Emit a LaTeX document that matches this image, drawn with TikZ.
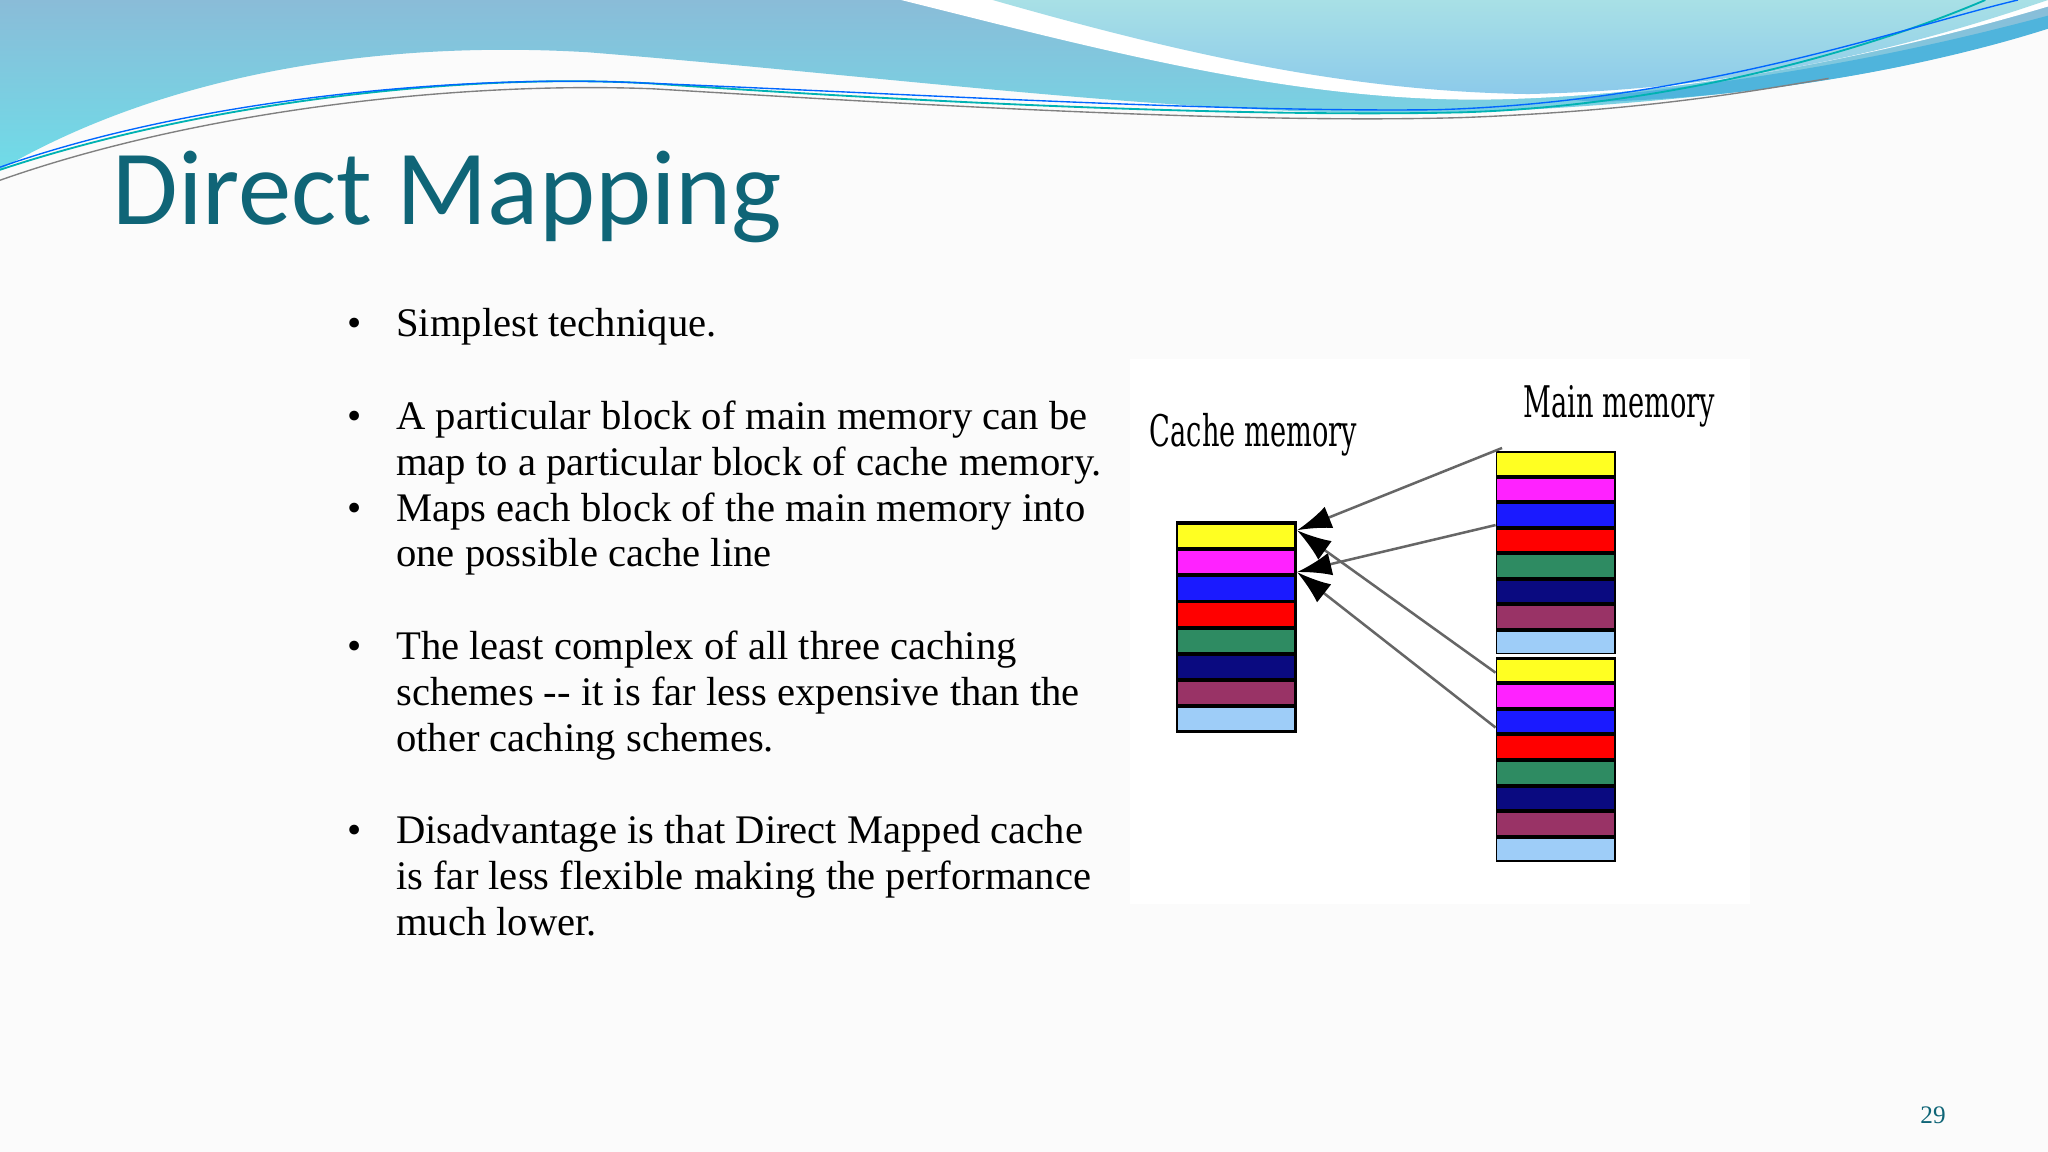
\documentclass[tikz,border=0pt]{standalone}
\usepackage{fontspec}
\setmainfont{Liberation Serif}
\newfontfamily\titlefont{Carlito}
\newfontfamily\labfont{DejaVu Serif}
\usetikzlibrary{arrows.meta}
\definecolor{teal1}{HTML}{0F6577}
\definecolor{kya}{HTML}{FFFF22}
\definecolor{kma}{HTML}{FF22FF}
\definecolor{kbl}{HTML}{1A1AFF}
\definecolor{kre}{HTML}{FF0000}
\definecolor{kgr}{HTML}{2E8B62}
\definecolor{kna}{HTML}{0A0A80}
\definecolor{kpl}{HTML}{993366}
\definecolor{klb}{HTML}{9ECDF8}
\definecolor{wtop}{HTML}{8ABCD8}
\definecolor{wbot}{HTML}{6FDCE8}
\definecolor{wlt}{HTML}{A8E0E6}
\definecolor{wlb}{HTML}{8CCAEA}
\definecolor{wband}{HTML}{4FB4DC}
\begin{document}
\begin{tikzpicture}[x=0.02cm,y=-0.02cm,
  body/.style={anchor=base west,inner sep=0pt,font=\fontsize{17.7}{20}\selectfont},
  bul/.style={anchor=base west,inner sep=0pt,font=\fontsize{17.7}{20}\selectfont},
  lab/.style={anchor=base west,inner sep=0pt,xscale=0.625,font=\labfont\fontsize{19}{22}\selectfont},
  conn/.style={draw=black!60,line width=1.1pt,-{Latex[length=15pt,width=10pt,color=black]}}]
\useasboundingbox (0,0) rectangle (1568,882);
\fill[white!97!gray] (0,0) rectangle (1568,882);
% waves
\shade[top color=wtop, bottom color=wbot] (0,0) -- (0,130) .. controls (120,60) and (280,30) .. (450,40) .. controls (700,60) and (950,95) .. (1150,85) .. controls (1350,75) and (1500,50) .. (1568,15) -- (1568,0) -- cycle;
\fill[white] (690,0) .. controls (850,40) and (1000,80) .. (1150,76) .. controls (1300,72) and (1450,40) .. (1568,5) -- (1568,0) -- cycle;
\shade[top color=wlt, bottom color=wlb] (760,0) .. controls (900,40) and (1030,70) .. (1170,72) .. controls (1350,68) and (1480,30) .. (1568,0) -- cycle;
\fill[wband] (1200,76) .. controls (1380,60) and (1500,30) .. (1568,12) -- (1568,22) .. controls (1480,50) and (1350,75) .. (1220,78) -- cycle;
\draw[teal!60!cyan,line width=0.8pt] (0,130) .. controls (150,80) and (350,55) .. (500,64) .. controls (700,78) and (950,90) .. (1120,86) .. controls (1300,80) and (1450,30) .. (1520,0);
\draw[blue!60!cyan,line width=0.6pt] (0,128) .. controls (150,75) and (350,58) .. (480,63) .. controls (700,72) and (930,86) .. (1100,84) .. controls (1300,78) and (1460,20) .. (1545,0);
\draw[gray,line width=0.6pt] (0,138) .. controls (150,85) and (350,62) .. (500,68) .. controls (700,80) and (950,95) .. (1120,90) .. controls (1250,85) and (1330,72) .. (1400,60);
% title
\node[anchor=base west,inner sep=0pt,text=teal1,font=\titlefont\fontsize{46.5}{54}\selectfont] (title) at (86,172) {Direct Mapping};
% bullets
\foreach \y [count=\i] in {258,329,399,505,646}
  \node[bul] (b\i) at (266,\y) {\textbullet};
\node[body] (t1) at (303,258) {Simplest technique.};
\node[body] (t2) at (303,329) {A particular block of main memory can be};
\node[body] (t3) at (303,364) {map to a particular block of cache memory.};
\node[body] (t4) at (303,399) {Maps each block of the main memory into};
\node[body] (t5) at (303,434) {one possible cache line};
\node[body] (t6) at (303,505) {The least complex of all three caching};
\node[body] (t7) at (303,540) {schemes {-}{-} it is far less expensive than the};
\node[body] (t8) at (303,575) {other caching schemes.};
\node[body] (t9) at (303,646) {Disadvantage is that Direct Mapped cache};
\node[body] (t10) at (303,681) {is far less flexible making the performance};
\node[body] (t11) at (303,716) {much lower.};
% diagram panel
\fill[white] (865,275) rectangle (1340,692);
\node[lab] (cache) at (880,342) {Cache memory};
\node[lab] (main) at (1166,320) {Main memory};
\foreach \c [count=\i from 0] in {kya,kma,kbl,kre,kgr,kna,kpl,klb}{
  \fill[black] (901,400+\i*20) rectangle (992,420+\i*20);
  \fill[fill=\c] (902,402+\i*20) rectangle (991,419+\i*20);
  \fill[black] (1145,345+\i*19.5) rectangle (1237,364.5+\i*19.5);
  \fill[fill=\c] (1146,347+\i*19.5) rectangle (1236,363.5+\i*19.5);
  \fill[black] (1145,503+\i*19.6) rectangle (1237,522.6+\i*19.6);
  \fill[fill=\c] (1146,505+\i*19.6) rectangle (1236,521.6+\i*19.6);
}
\draw[black,line width=1pt] (901,400) rectangle (992,560);
\coordinate (c0) at (993,406);
\coordinate (c1) at (993,438);
\coordinate (m0) at (1150,343);
\coordinate (m1) at (1145,402);
\coordinate (m2) at (1145,515);
\coordinate (m3) at (1145,557);
\draw[conn] (m0) -- (c0);
\draw[conn] (m1) -- (c1);
\draw[conn] (m2) -- (c0);
\draw[conn] (m3) -- (c1);
\node[anchor=base,inner sep=0pt,text=teal1,font=\fontsize{11}{12}\selectfont] (pg) at (1480,860) {29};
\end{tikzpicture}
\end{document}
